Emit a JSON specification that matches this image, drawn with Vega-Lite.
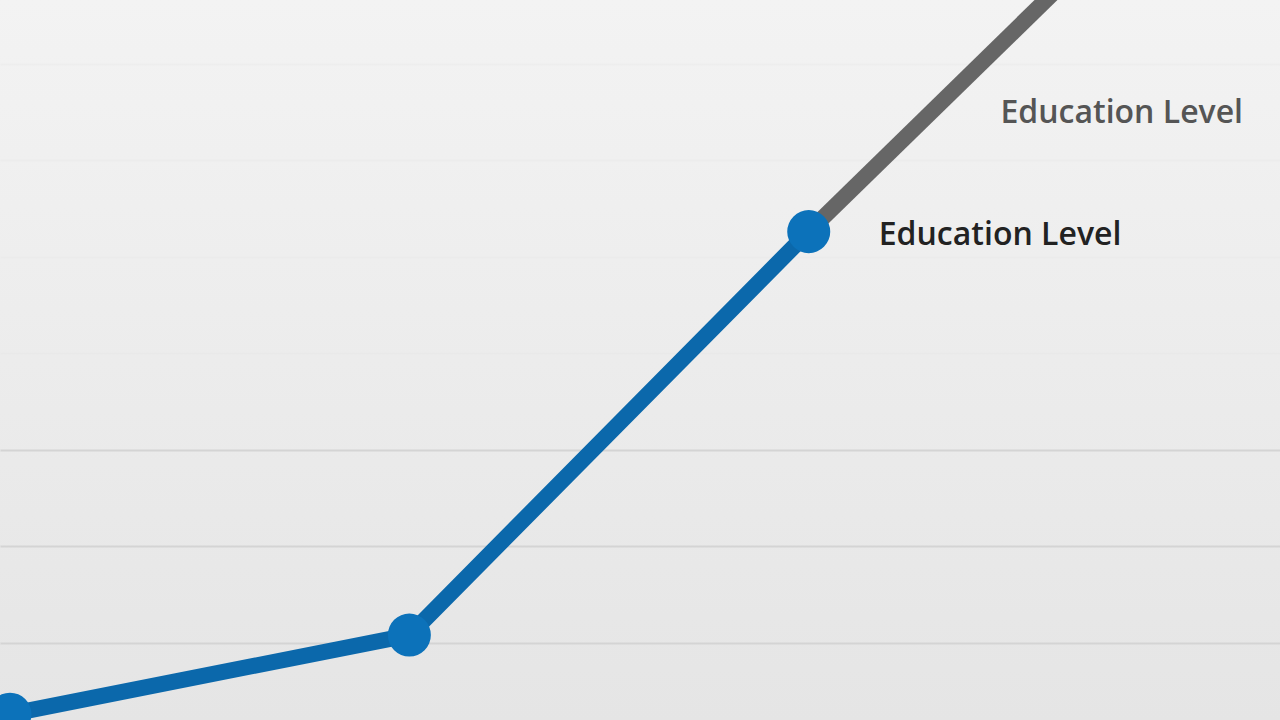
{
  "$schema": "https://vega.github.io/schema/vega-lite/v6.json",
  "width": 1280,
  "height": 720,
  "padding": 0,
  "autosize": {"type": "fit", "contains": "padding"},
  "background": "#ececec",
  "view": {
    "stroke": null,
    "fill": {
      "gradient": "linear", "x1": 0, "y1": 0, "x2": 0, "y2": 1,
      "stops": [{"offset": 0, "color": "#f3f3f3"}, {"offset": 1, "color": "#e5e5e5"}]
    }
  },
  "datasets": {
    "series": [
      {"step": 0, "value": 2.6, "series": "actual"},
      {"step": 1, "value": 10.8, "series": "actual"},
      {"step": 2, "value": 52.6, "series": "actual"},
      {"step": 2, "value": 52.6, "series": "projected"},
      {"step": 3, "value": 93.0, "series": "projected"}
    ],
    "labels": [
      {"step": 2, "value": 52.6, "label": "Education Level", "series": "actual"},
      {"step": 2.48, "value": 64.9, "label": "Education Level", "series": "projected"}
    ]
  },
  "layer": [
    {
      "data": {"name": "series"},
      "mark": {"type": "line", "strokeWidth": 16, "strokeCap": "butt", "clip": true},
      "encoding": {
        "x": {"field": "step", "type": "quantitative", "scale": {"domain": [-0.025, 3.18], "nice": false, "zero": false}, "axis": null},
        "y": {
          "field": "value",
          "type": "quantitative",
          "scale": {"domain": [2, 76.6], "nice": false, "zero": false},
          "axis": {
            "values": [10, 20, 30, 40, 50, 60, 70],
            "labels": false,
            "ticks": false,
            "domain": false,
            "title": null,
            "grid": true,
            "gridColor": "#d2d2d2",
            "gridWidth": 2,
            "gridOpacity": {"condition": {"test": "datum.value <= 30", "value": 0.9}, "value": 0.12}
          }
        },
        "color": {"field": "series", "type": "nominal", "scale": {"domain": ["actual", "projected"], "range": ["#0b68ab", "#666666"]}, "legend": null}
      }
    },
    {
      "data": {"name": "series"},
      "transform": [{"filter": "datum.series == 'actual'"}],
      "mark": {"type": "circle", "size": 1850, "opacity": 1, "color": "#0c72ba", "clip": true},
      "encoding": {
        "x": {"field": "step", "type": "quantitative"},
        "y": {"field": "value", "type": "quantitative"}
      }
    },
    {
      "data": {"name": "labels"},
      "transform": [{"filter": "datum.series == 'actual'"}],
      "mark": {"type": "text", "align": "left", "baseline": "middle", "dx": 70, "dy": 3, "font": "Open Sans", "fontWeight": 600, "fontSize": 32, "color": "#222222"},
      "encoding": {
        "x": {"field": "step", "type": "quantitative"},
        "y": {"field": "value", "type": "quantitative"},
        "text": {"field": "label"}
      }
    },
    {
      "data": {"name": "labels"},
      "transform": [{"filter": "datum.series == 'projected'"}],
      "mark": {"type": "text", "align": "left", "baseline": "middle", "font": "Open Sans", "fontWeight": 600, "fontSize": 32, "color": "#555555"},
      "encoding": {
        "x": {"field": "step", "type": "quantitative"},
        "y": {"field": "value", "type": "quantitative"},
        "text": {"field": "label"}
      }
    }
  ]
}
